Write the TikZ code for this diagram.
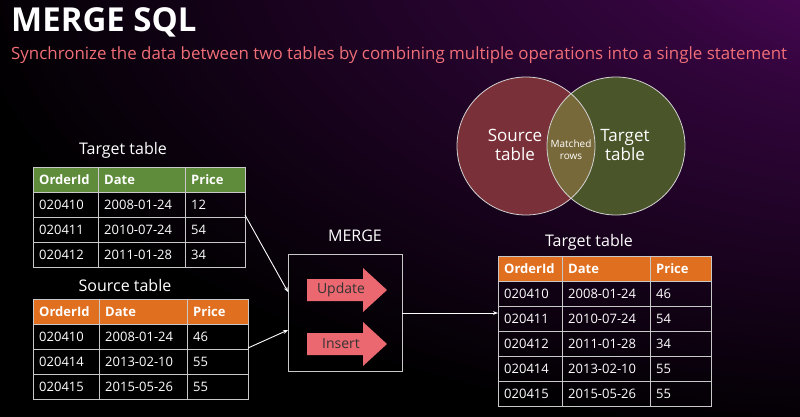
\documentclass[tikz,border=0pt]{standalone}
\usepackage{fontspec}
\usetikzlibrary{arrows.meta}
\setmainfont{Open Sans}
\definecolor{hgreen}{RGB}{94,140,58}
\definecolor{horange}{RGB}{224,112,32}
\definecolor{salmon}{RGB}{236,104,112}
\definecolor{subpink}{RGB}{240,110,120}
\definecolor{gridc}{RGB}{200,200,200}
\definecolor{vred}{RGB}{122,48,56}
\definecolor{vgreen}{RGB}{74,85,42}
\definecolor{vmix}{RGB}{120,105,58}
\definecolor{bgpurple}{RGB}{120,10,135}
\definecolor{bgmid}{RGB}{50,5,60}
\pgfdeclareradialshading{bgsh}{\pgfpoint{42bp}{42bp}}{color(0bp)=(bgpurple); color(25bp)=(bgmid); color(58bp)=(black); color(200bp)=(black)}
\tikzset{
 cell/.style={anchor=west,text=white,font=\fontsize{13}{15}\selectfont,inner sep=0,text height=9.5pt,text depth=0pt},
 hcell/.style={cell,font=\fontsize{13}{15}\selectfont\bfseries},
 ttl/.style={text=white,font=\fontsize{16}{19}\selectfont},
 grid/.style={draw=gridc,line width=0.8pt},
 flow/.style={draw=white,line width=0.9pt,-{Stealth[length=5pt]}},
 bigarrow/.style={fill=salmon}
}
% #1 x0 #2 x1 #3 x2 #4 x3 #5 ytop #6 nrows #7 color #8 rows
\newcommand\mytable[8]{%
 \fill[#7] (#1,#5) rectangle (#4,#5+25);
 \node[hcell] at (#1+6,#5+12.5) {OrderId};
 \node[hcell] at (#2+6,#5+12.5) {Date};
 \node[hcell] at (#3+6,#5+12.5) {Price};
 \foreach \a/\b/\c [count=\i] in {#8} {
  \node[cell] at (#1+6,#5+25*\i+12.5) {\a};
  \node[cell] at (#2+6,#5+25*\i+12.5) {\b};
  \node[cell] at (#3+6,#5+25*\i+12.5) {\c};
 }
 \foreach \i in {1,...,#6} {\draw[grid] (#1,#5+25*\i) -- (#4,#5+25*\i);}
 \draw[grid] (#1,#5) rectangle (#4,#5+25*#6+25);
 \draw[grid] (#2,#5) -- (#2,#5+25*#6+25);
 \draw[grid] (#3,#5) -- (#3,#5+25*#6+25);
}
\begin{document}
\begin{tikzpicture}[x=1pt,y=-1pt]
\useasboundingbox (0,0) rectangle (800,416);
\fill[black] (0,0) rectangle (800,416);
\shade[shading=bgsh] (0,0) rectangle (800,416);
\node[anchor=west,text=white,font=\fontsize{33}{36}\selectfont\bfseries,inner sep=0] (title) at (11,22) {MERGE SQL};
\node[anchor=west,text=subpink,font=\fontsize{16.9}{20}\selectfont,inner sep=0] (sub) at (11,55) {Synchronize the data between two tables by combining multiple operations into a single statement};
% Venn
\fill[vred] (526,146) circle (69);
\fill[vgreen] (616,146) circle (69);
\begin{scope}
\clip (526,146) circle (69);
\fill[vmix] (616,146) circle (69);
\end{scope}
\draw[gridc!80,line width=0.8pt] (526,146) circle (69) (616,146) circle (69);
\node[ttl,align=center,font=\fontsize{17}{19}\selectfont] (vs) at (515,145) {Source\\table};
\node[ttl,align=center,font=\fontsize{17}{19}\selectfont] (vt) at (625,145) {Target\\table};
\node[ttl,align=center,font=\fontsize{10}{12}\selectfont] (vm) at (571,150) {Matched\\rows};
% tables
\node[ttl] (t1) at (123,150) {Target table};
\mytable{33}{98}{185}{245}{167}{3}{hgreen}{020410/2008-01-24/12,020411/2010-07-24/54,020412/2011-01-28/34}
\node[ttl] (t2) at (125,285) {Source table};
\mytable{33}{99}{187}{248}{299}{3}{horange}{020410/2008-01-24/46,020414/2013-02-10/55,020415/2015-05-26/55}
\node[ttl] (t3) at (589,242) {Target table};
\mytable{498}{562}{650}{711}{256}{5}{horange}{020410/2008-01-24/46,020411/2010-07-24/54,020412/2011-01-28/34,020414/2013-02-10/55,020415/2015-05-26/55}
% merge
\node[ttl] (ml) at (355,236) {MERGE};
\node[draw=gridc,line width=0.8pt,minimum width=114pt,minimum height=117pt,inner sep=0] (mbox) at (345,312.5) {};
\fill[bigarrow] (307,279) -- (363,279) -- (363,268) -- (387,290) -- (363,312) -- (363,301) -- (307,301) -- cycle;
\node[text=black!80,font=\fontsize{14}{16}\selectfont] (up) at (341,290) {Update};
\fill[bigarrow] (307,333) -- (363,333) -- (363,322) -- (387,344) -- (363,366) -- (363,355) -- (307,355) -- cycle;
\node[text=black!80,font=\fontsize{14}{16}\selectfont] (ins) at (341,344) {Insert};
\coordinate (a1) at (245,215);
\coordinate (a2) at (248,348);
\coordinate (b1) at (288,292);
\coordinate (b2) at (288,330);
\coordinate (c1) at (402,313);
\coordinate (c2) at (498,313);
\draw[flow] (a1) -- (b1);
\draw[flow] (a2) -- (b2);
\draw[flow] (c1) -- (c2);
\end{tikzpicture}
\end{document}
